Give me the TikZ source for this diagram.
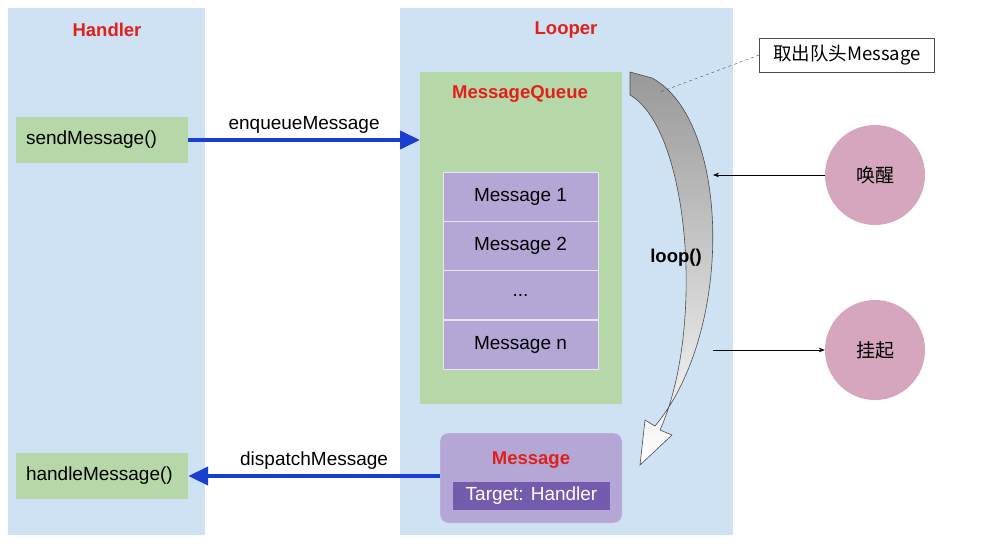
\documentclass[tikz,border=0pt]{standalone}
\usepackage{fontspec}
\setmainfont{Liberation Sans}
\newfontfamily\cjk{Noto Sans CJK SC}
\usetikzlibrary{arrows.meta}
\definecolor{panel}{HTML}{CFE2F3}
\definecolor{grn}{HTML}{B6D7A8}
\definecolor{pur}{HTML}{B4A7D6}
\definecolor{dpur}{HTML}{674EA7}
\definecolor{pink}{HTML}{D5A6BD}
\definecolor{ttl}{HTML}{E0201B}
\definecolor{arr}{HTML}{1A3FD0}
\begin{document}
\begin{tikzpicture}[x=1pt,y=-1pt,
  title/.style={text=ttl,font=\bfseries\fontsize{18.5}{21}\selectfont},
  lbl/.style={font=\fontsize{19}{22}\selectfont},
  mrow/.style={fill=pur,draw=white!70!pur,minimum width=155pt,minimum height=49pt,lbl,inner sep=0pt},
  gbox/.style={fill=grn,minimum width=172pt,minimum height=46pt,lbl,text width=152pt,align=left},
  bigarr/.style={-{Triangle[length=20pt,width=18pt]},line width=4pt,draw=arr},
  thin/.style={-{Stealth[length=6pt]},line width=0.7pt}]
\useasboundingbox (0,0) rectangle (984,557);
\fill[white] (0,0) rectangle (984,557);
\fill[panel] (8,8) rectangle (205,535);
\fill[panel] (400,8) rectangle (733,535);
\node[title] (h) at (107,30) {Handler};
\node[title] (l) at (566,30) {Looper};
\fill[grn] (420,72) rectangle (622,404);
\node[title] (mq) at (520,94) {MessageQueue};
\node[mrow] (m1) at (520.5,196.5) {Message 1};
\node[mrow] (m2) at (520.5,245.5) {Message 2};
\node[mrow] (m3) at (520.5,295) {...};
\node[mrow] (m4) at (520.5,345) {Message n};
\node[gbox] (send) at (102,140) {sendMessage()};
\node[gbox] (handle) at (102,476) {handleMessage()};
\node[fill=pur,draw=white!60!pur,rounded corners=8pt,minimum width=182pt,minimum height=90pt] (msg) at (531,478) {};
\node[title] at (531,460) {Message};
\node[fill=dpur!85!pur,text=white,minimum width=157pt,minimum height=28pt,lbl,inner sep=0pt] (tgt) at (531.5,496) {Target: Handler};
\coordinate (qin) at (420,140);
\draw[bigarr] (send.east) -- node[above,lbl,text=black,yshift=1pt]{enqueueMessage} (qin);
\coordinate (mout) at (440,476);
\draw[bigarr] (mout) -- node[above,lbl,text=black,yshift=1pt]{dispatchMessage} (handle.east);
\shade[top color=gray!80,bottom color=white,draw=black!70,line width=0.6pt]
 (630,72) -- (630,95) .. controls (690,130) and (705,330) .. (660,430)
 -- (672,435) -- (640,465) -- (645,420) -- (655,426)
 .. controls (735,330) and (730,120) .. (652,78) -- cycle;
\node[font=\bfseries\fontsize{18.5}{21}\selectfont] (loop) at (676,258) {loop()};
\node[draw=black!70,fill=white,minimum width=175pt,minimum height=34pt,font=\cjk\fontsize{18.5}{21}\selectfont,inner sep=0pt] (co) at (847,55) {取出队头Message};
\coordinate (cp) at (660,92);
\draw[dashed,black!70] (co.west) -- (cp);
\node[circle,fill=pink,minimum size=100pt,font=\cjk\fontsize{19}{22}\selectfont] (wk) at (875,175) {唤醒};
\node[circle,fill=pink,minimum size=100pt,font=\cjk\fontsize{19}{22}\selectfont] (hg) at (875,350) {挂起};
\coordinate (w2) at (713,175);
\coordinate (h2) at (713,350);
\draw[thin] (wk.west) -- (w2);
\draw[thin] (h2) -- (hg.west);
\end{tikzpicture}
\end{document}
